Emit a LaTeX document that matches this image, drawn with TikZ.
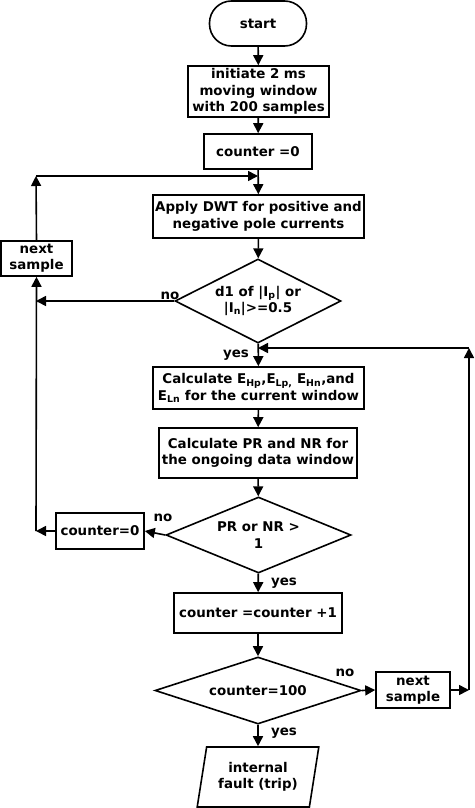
\documentclass[tikz,border=0pt]{standalone}
\usepackage{fontspec}
\setmainfont{DejaVu Sans}
\usetikzlibrary{arrows.meta,shapes.geometric}
\begin{document}
\begin{tikzpicture}[x=1pt,y=-1pt,
  font=\fontsize{13.4}{16.3}\selectfont\bfseries,
  line width=1.6pt,
  box/.style={draw, inner sep=0pt, align=center},
  dec/.style={draw, diamond, inner sep=0pt, align=center},
  arr/.style={-{Triangle[length=10pt,width=10pt]}},
  lbl/.style={inner sep=0pt}]
\useasboundingbox (0,0) rectangle (474,808);
% nodes
\node[box, rounded corners=22pt, minimum width=97pt, minimum height=45pt] (start) at (258,23.5) {start};
\node[box, minimum width=141pt, minimum height=51pt] (init) at (258.5,91.5) {initiate 2 ms\\moving window\\with 200 samples};
\node[box, minimum width=108pt, minimum height=35pt] (c0) at (258,151.5) {counter =0};
\node[box, minimum width=211pt, minimum height=43pt] (dwt) at (258.5,216.5) {Apply DWT for positive and\\negative pole currents};
\node[dec, aspect=2, minimum width=166pt, minimum height=84pt] (d1) at (258,301) {d1 of |I\textsubscript{p}| or\\|I\textsubscript{n}|>=0.5};
\node[box, minimum width=71pt, minimum height=35pt] (ns1) at (36.5,258.5) {next\\sample};
\node[box, minimum width=211pt, minimum height=42pt] (E) at (258.5,388) {Calculate E\textsubscript{Hp},E\textsubscript{Lp,} E\textsubscript{Hn},and\\E\textsubscript{Ln} for the current window};
\node[box, minimum width=198pt, minimum height=50pt] (PR) at (258,453) {Calculate PR and NR for\\the ongoing data window};
\node[dec, aspect=2.4, minimum width=185pt, minimum height=76pt] (d2) at (258.5,535) {PR or NR >\\1};
\node[box, minimum width=88pt, minimum height=36pt] (c0b) at (100,531) {counter=0};
\node[box, minimum width=168pt, minimum height=40pt] (cplus) at (258,613) {counter =counter +1};
\node[dec, aspect=3.1, minimum width=206pt, minimum height=67pt] (d3) at (258,690.5) {counter=100};
\node[box, minimum width=74pt, minimum height=36pt] (ns2) at (413,690) {next\\sample};
\node[draw, trapezium, trapezium left angle=76, trapezium right angle=104, trapezium stretches=true, minimum width=122pt, minimum height=60pt, inner sep=0pt, align=center] (trip) at (258,777) {internal\\fault (trip)};
% labels
\node[lbl] at (170,296) {no};
\node[lbl] at (236,355) {yes};
\node[lbl] at (163,518) {no};
\node[lbl] at (284,583) {yes};
\node[lbl] at (345,673) {no};
\node[lbl] at (284,733) {yes};
% coordinates
\coordinate (lt) at (36,176);
\coordinate (jl) at (258,176);
\coordinate (ml) at (36,301);
\coordinate (lb) at (36,531);
\coordinate (rb) at (469,690);
\coordinate (rt) at (469,348);
\coordinate (jr) at (258,348);
% connectors
\draw[arr] (start) -- (init);
\draw[arr] (init) -- (c0);
\draw[arr] (c0) -- (dwt);
\draw[arr] (dwt) -- (d1);
\draw[arr] (d1) -- (E);
\draw[arr] (E) -- (PR);
\draw[arr] (PR) -- (d2);
\draw[arr] (d2) -- (cplus);
\draw[arr] (cplus) -- (d3);
\draw[arr] (d3) -- (trip);
\draw[arr] (d3.east) -- (ns2.west);
\draw[arr] (ns2.east) -- (rb);
\draw[arr] (rb) -- (rt);
\draw[arr] (rt) -- (jr);
\draw[arr] (d1.west) -- (ml);
\draw[arr] (d2.west) -- (c0b.east);
\draw[arr] (c0b.west) -- (lb);
\draw[arr] (lb) -- (ns1.south);
\draw[arr] (ns1.north) -- (lt);
\draw[arr] (lt) -- (jl);
\end{tikzpicture}
\end{document}
